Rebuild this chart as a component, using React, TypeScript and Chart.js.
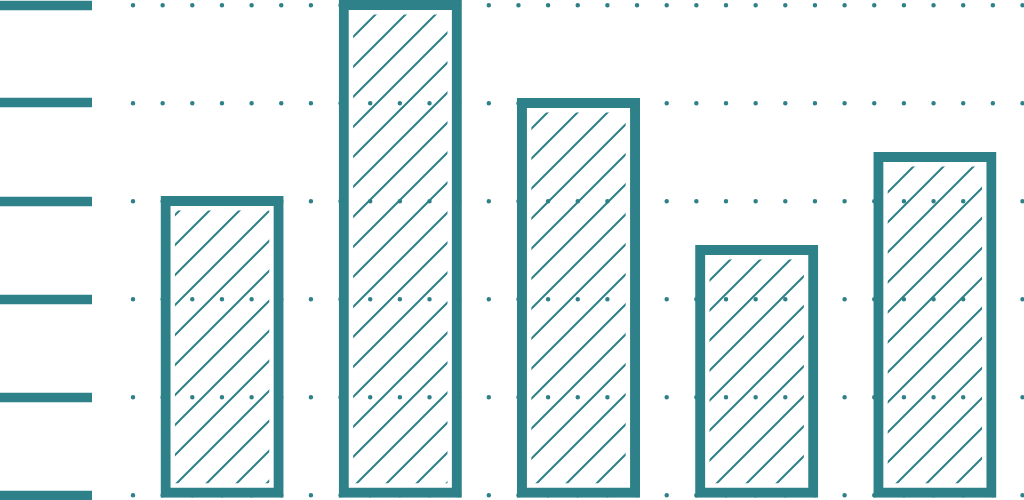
import React, { useEffect, useRef } from 'react';
import { Chart, registerables } from 'chart.js';

Chart.register(...registerables);

// chart data
const categories = ['A', 'B', 'C', 'D', 'E'];
const values = [3, 5, 4, 2.5, 3.45];
const yMin = 0;
const yMax = 5;
const yStep = 1;

const TEAL = '#2e8188';

// diagonal "/" hatch tile
function makeHatch(ctx: CanvasRenderingContext2D): CanvasPattern | string {
  const size = 30;
  const tile = document.createElement('canvas');
  tile.width = size;
  tile.height = size;
  const g = tile.getContext('2d');
  if (!g) return TEAL;
  g.strokeStyle = TEAL;
  g.lineWidth = 2;
  g.beginPath();
  g.moveTo(0, size);
  g.lineTo(size, 0);
  g.moveTo(-3, 3);
  g.lineTo(3, -3);
  g.moveTo(size - 3, size + 3);
  g.lineTo(size + 3, size - 3);
  g.stroke();
  return ctx.createPattern(tile, 'repeat') || TEAL;
}

// round dots for the grid, square ends for the tick marks drawn later
const capPlugin = {
  id: 'capSwitch',
  beforeDraw: (chart: Chart) => {
    chart.ctx.lineCap = 'round';
  },
  afterDatasetsDraw: (chart: Chart) => {
    chart.ctx.lineCap = 'butt';
  },
};

// let the outline spill past the plot area a little
const barClip = { left: 12, right: 12, top: 12, bottom: 12 };

const App: React.FC = () => {
  const canvasRef = useRef<HTMLCanvasElement>(null);
  const chartInstance = useRef<Chart | null>(null);

  useEffect(() => {
    if (!canvasRef.current) return;
    const ctx = canvasRef.current.getContext('2d');
    if (!ctx) return;

    if (chartInstance.current) {
      chartInstance.current.destroy();
    }

    const hatch = makeHatch(ctx);

    chartInstance.current = new Chart(ctx, {
      type: 'bar',
      data: {
        labels: categories,
        datasets: [
          {
            // outline
            data: values,
            backgroundColor: 'rgba(0,0,0,0)',
            borderColor: TEAL,
            borderWidth: 0.2,
            inflateAmount: 4.9,
            borderSkipped: false,
            grouped: false,
            barPercentage: 0.636,
            categoryPercentage: 1,
            clip: barClip,
          },
          {
            // hatch fill, inset from the outline
            data: values,
            backgroundColor: hatch as any,
            borderColor: 'rgba(0,0,0,0)',
            borderWidth: 9.5,
            inflateAmount: 0,
            borderSkipped: false,
            grouped: false,
            barPercentage: 0.636,
            categoryPercentage: 1,
            clip: barClip,
          },
        ],
      },
      options: {
        responsive: true,
        maintainAspectRatio: false,
        animation: false,
        layout: { padding: { top: 5, bottom: 5, left: 0, right: 0 } },
        plugins: {
          legend: { display: false },
          tooltip: { enabled: false },
        },
        scales: {
          x: { display: false },
          y: {
            min: yMin,
            max: yMax,
            ticks: { display: false, stepSize: yStep },
            border: { display: false, dash: [0, 29.65] },
            grid: { color: TEAL, lineWidth: 4.5, drawTicks: false },
            afterFit: (scale: any) => {
              scale.width = 0;
            },
          },
          y2: {
            position: 'left',
            min: yMin,
            max: yMax,
            ticks: { display: false, stepSize: yStep },
            border: { display: false },
            grid: {
              drawOnChartArea: false,
              drawTicks: true,
              tickLength: 133,
              tickWidth: 9.5,
              tickColor: TEAL,
              tickBorderDash: [92, 1000],
              z: 1,
            },
            afterFit: (scale: any) => {
              scale.width = 133;
            },
          },
        },
      } as any,
      plugins: [capPlugin],
    });

    return () => {
      if (chartInstance.current) {
        chartInstance.current.destroy();
        chartInstance.current = null;
      }
    };
  }, []);

  return (
    <div style={{ position: 'fixed', left: 0, top: 0, width: 1024, height: 500, background: '#fff' }}>
      <canvas ref={canvasRef} />
    </div>
  );
};

export default App;
